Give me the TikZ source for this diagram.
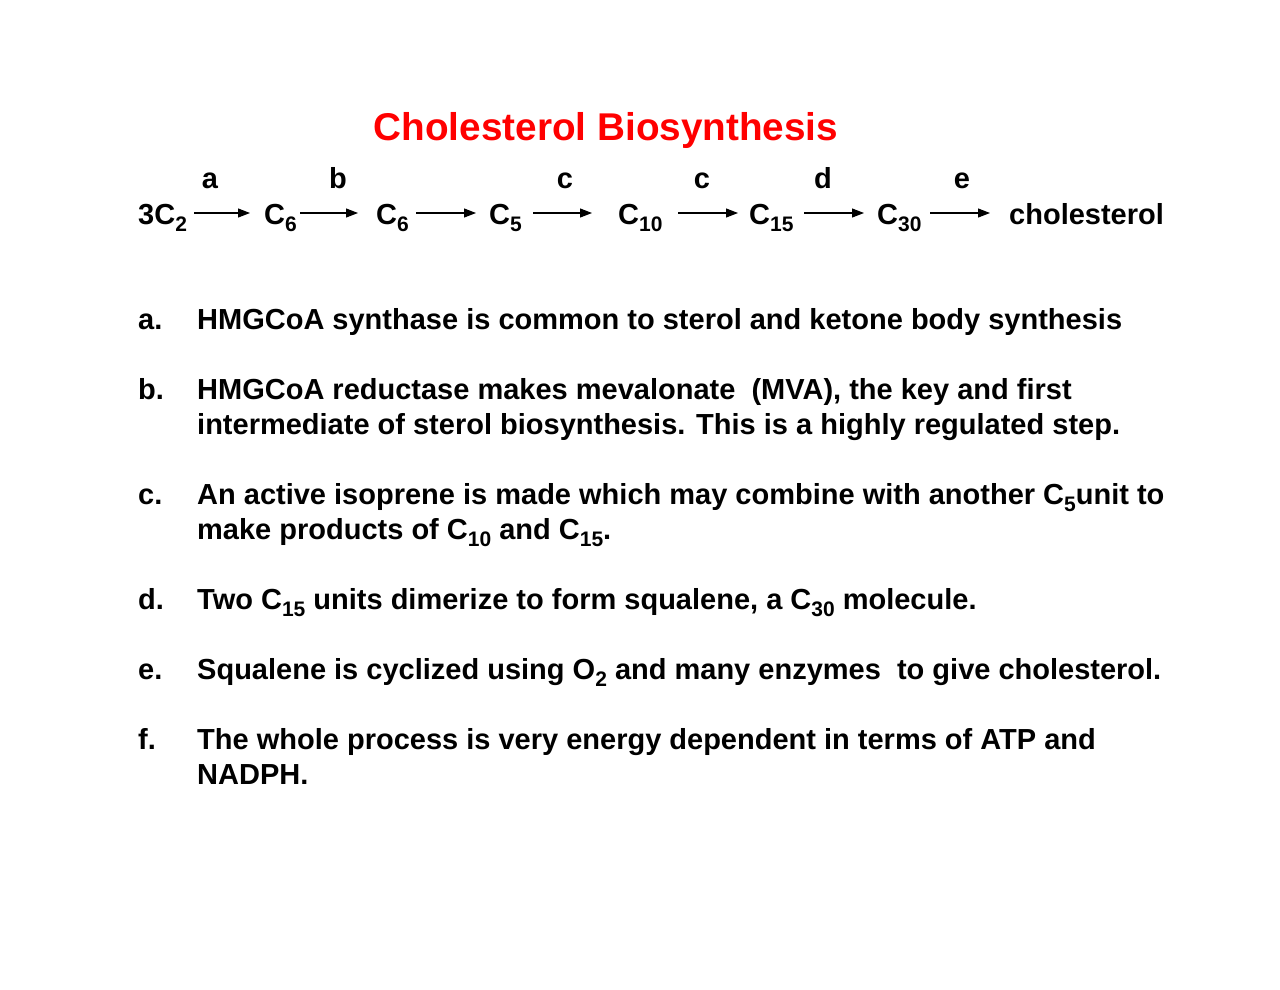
\documentclass[tikz,border=0pt]{standalone}
\usepackage{fontspec}
\setmainfont{Liberation Sans}
\usetikzlibrary{arrows.meta}
\newcommand{\sbs}[1]{\raisebox{-7pt}{\fontsize{21}{24}\selectfont #1}}
\begin{document}
\begin{tikzpicture}[x=1pt,y=-1pt,
  t/.style={anchor=base west,inner sep=0pt,font=\fontsize{29}{34}\selectfont\bfseries},
  lab/.style={anchor=base,inner sep=0pt,font=\fontsize{29}{34}\selectfont\bfseries},
  ar/.style={-{Triangle[length=12pt,width=9pt]},line width=1.1pt}]
\path[use as bounding box] (0,0) rectangle (1280,989);
\node[anchor=base,inner sep=0pt,text=red,font=\fontsize{38.7}{42}\selectfont\bfseries] (title) at (606,140) {Cholesterol Biosynthesis};
% pathway
\node[t] (n0) at (138,224) {3C\sbs{2}};
\node[t] (n1) at (264,224) {C\sbs{6}};
\node[t] (n2) at (376,224) {C\sbs{6}};
\node[t] (n3) at (489,224) {C\sbs{5}};
\node[t] (n4) at (618,224) {C\sbs{10}};
\node[t] (n5) at (749,224) {C\sbs{15}};
\node[t] (n6) at (877,224) {C\sbs{30}};
\node[t] (n7) at (1009,224) {cholesterol};
\foreach \a/\b/\i in {194/250/1,300/358/2,416/476/3,533/592/4,678/738/5,804/864/6,930/990/7}{
  \coordinate (s\i) at (\a,213); \coordinate (e\i) at (\b,213);
  \draw[ar] (s\i) -- (e\i);}
\node[lab] (la) at (210,188) {a};
\node[lab] (lb) at (338,188) {b};
\node[lab] (lc1) at (565,188) {c};
\node[lab] (lc2) at (702,188) {c};
\node[lab] (ld) at (823,188) {d};
\node[lab] (le) at (962,188) {e};
% list
\node[t] (ia) at (138,329) {a.};
\node[t] (ta) at (197,329) {HMGCoA synthase is common to sterol and ketone body synthesis};
\node[t] (ib) at (138,399) {b.};
\node[t] (tb1) at (197,399) {HMGCoA reductase makes mevalonate\ \ (MVA), the key and first};
\node[t] (tb2) at (197,434) {intermediate of sterol biosynthesis. This is a highly regulated step.};
\node[t] (ic) at (138,504) {c.};
\node[t] (tc1) at (197,504) {An active isoprene is made which may combine with another C\sbs{5}unit to};
\node[t] (tc2) at (197,539) {make products of C\sbs{10} and C\sbs{15}.};
\node[t] (id) at (138,609) {d.};
\node[t] (td) at (197,609) {Two C\sbs{15} units dimerize to form squalene, a C\sbs{30} molecule.};
\node[t] (ie) at (138,679) {e.};
\node[t] (te) at (197,679) {Squalene is cyclized using O\sbs{2} and many enzymes\ \ to give cholesterol.};
\node[t] (iff) at (138,749) {f.};
\node[t] (tf1) at (197,749) {The whole process is very energy dependent in terms of ATP and};
\node[t] (tf2) at (197,784) {NADPH.};
\end{tikzpicture}
\end{document}
